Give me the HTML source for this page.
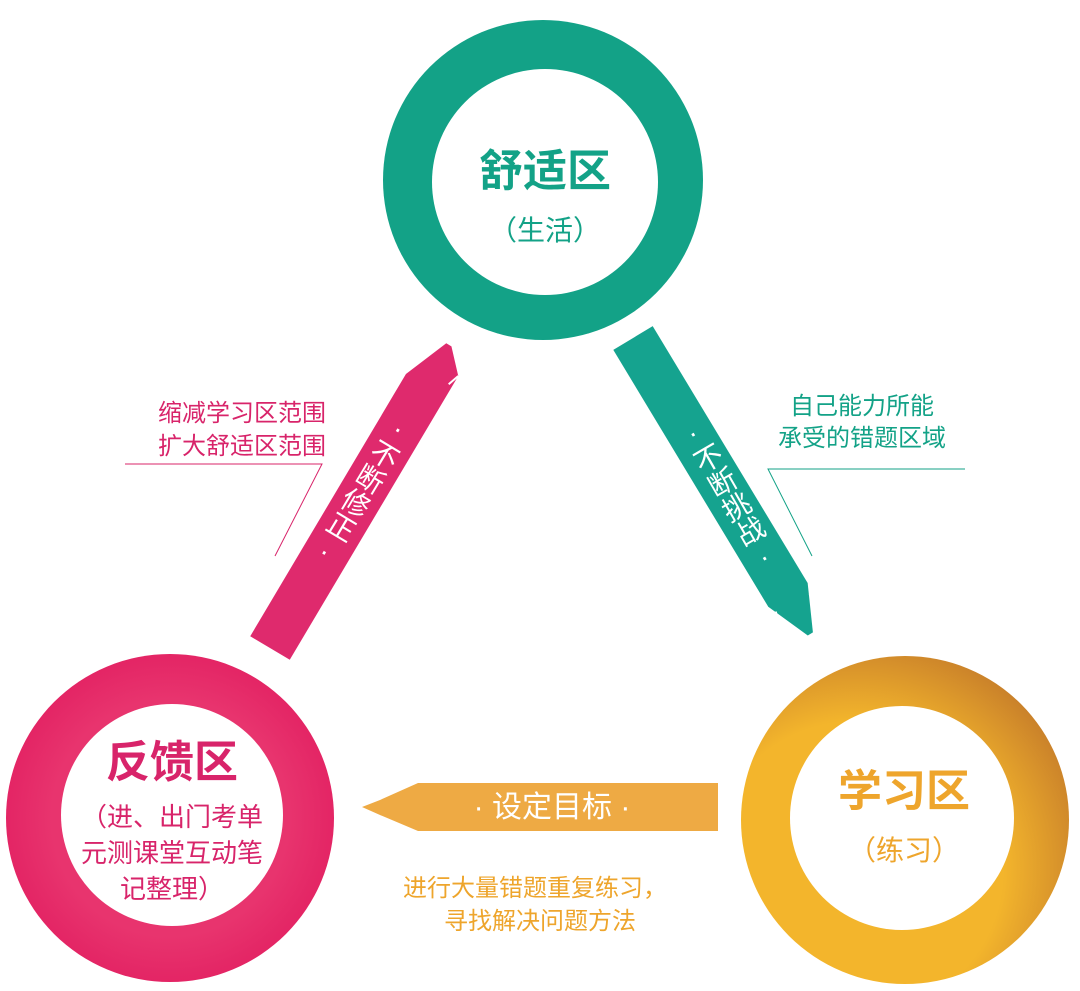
<!DOCTYPE html>
<html><head><meta charset="utf-8"><style>
html,body{margin:0;padding:0;background:#fff;}
body{width:1080px;height:986px;overflow:hidden;}
svg text{font-family:"Liberation Sans","Noto Sans CJK SC",sans-serif;}
.v{writing-mode:vertical-rl;text-orientation:upright;}
</style></head><body>
<svg width="1080" height="986" viewBox="0 0 1080 986" xmlns="http://www.w3.org/2000/svg">
<defs>
<radialGradient id="og" cx="0.35" cy="0.65" r="0.75">
<stop offset="0.6" stop-color="#f3b52c"/><stop offset="1" stop-color="#c47a2a"/>
</radialGradient>
<radialGradient id="pg" cx="0.5" cy="0.5" r="0.6">
<stop offset="0.6" stop-color="#e8346e"/><stop offset="1" stop-color="#e01a5e"/>
</radialGradient>
</defs>
<circle cx="543" cy="180" r="160" fill="#13a287"/>
<circle cx="545" cy="182" r="113" fill="#fff"/>
<text x="545" y="186" text-anchor="middle" font-size="44" font-weight="bold" fill="#13a287">舒适区</text>
<text x="545" y="240" text-anchor="middle" font-size="28" fill="#13a287">（生活）</text>
<circle cx="170" cy="818" r="164" fill="url(#pg)"/>
<circle cx="172" cy="815" r="111" fill="#fff"/>
<text x="172" y="777" text-anchor="middle" font-size="44" font-weight="bold" fill="#d8246a">反馈区</text>
<text x="172" y="826" text-anchor="middle" font-size="26" fill="#d8246a">（进、出门考单</text>
<text x="172" y="862" text-anchor="middle" font-size="26" fill="#d8246a">元测课堂互动笔</text>
<text x="172" y="898" text-anchor="middle" font-size="26" fill="#d8246a">记整理）</text>
<circle cx="905" cy="820" r="164" fill="url(#og)"/>
<circle cx="902" cy="818" r="112" fill="#fff"/>
<text x="904" y="806" text-anchor="middle" font-size="44" font-weight="bold" fill="#eea52c">学习区</text>
<text x="904" y="860" text-anchor="middle" font-size="28" fill="#eea52c">（练习）</text>
<g transform="translate(270,648) rotate(-59.3)">
<polygon points="0,-23 305,-23 352,-4 352,2 330,23 0,23" fill="#df2a6d"/>
<path d="M318,-19 L332,-24 M318,19 L330,23" stroke="#fff" stroke-width="2"/>
</g>
<g transform="translate(362,490) rotate(31)">
<text class="v" x="0" y="0" text-anchor="middle" font-size="28" fill="#fff">·不断修正·</text>
</g>
<g transform="translate(633,338) rotate(58.9)">
<polygon points="0,-23 300,-23 345,-2 345,4 300,23 0,23" fill="#15a38f"/>
<path d="M310,-19 L322,-23 M308,19 L320,23" stroke="#fff" stroke-width="2"/>
</g>
<g transform="translate(728,495) rotate(-30)">
<text class="v" x="0" y="0" text-anchor="middle" font-size="28" fill="#fff">·不断挑战·</text>
</g>
<polygon points="718,783 418,783 380,800 362,807 380,815 418,831 718,831" fill="#eeaa44"/>
<path d="M383,793 L398,783 M383,822 L398,831" stroke="#fff" stroke-width="2"/>
<text x="552" y="817" text-anchor="middle" font-size="30" fill="#fff">· 设定目标 ·</text>
<text x="326" y="421" text-anchor="end" font-size="24" fill="#d8246a">缩减学习区范围</text>
<text x="326" y="454" text-anchor="end" font-size="24" fill="#d8246a">扩大舒适区范围</text>
<path d="M125,464 L322,464 L275,556" fill="none" stroke="#d8246a" stroke-width="1"/>
<text x="862" y="414" text-anchor="middle" font-size="24" fill="#13a287">自己能力所能</text>
<text x="862" y="446" text-anchor="middle" font-size="24" fill="#13a287">承受的错题区域</text>
<path d="M965,469 L768,469 L812,556" fill="none" stroke="#13a287" stroke-width="1"/>
<text x="535" y="896" text-anchor="middle" font-size="24" fill="#eea52c">进行大量错题重复练习，</text>
<text x="540" y="929" text-anchor="middle" font-size="24" fill="#eea52c">寻找解决问题方法</text>
</svg>
</body></html>
